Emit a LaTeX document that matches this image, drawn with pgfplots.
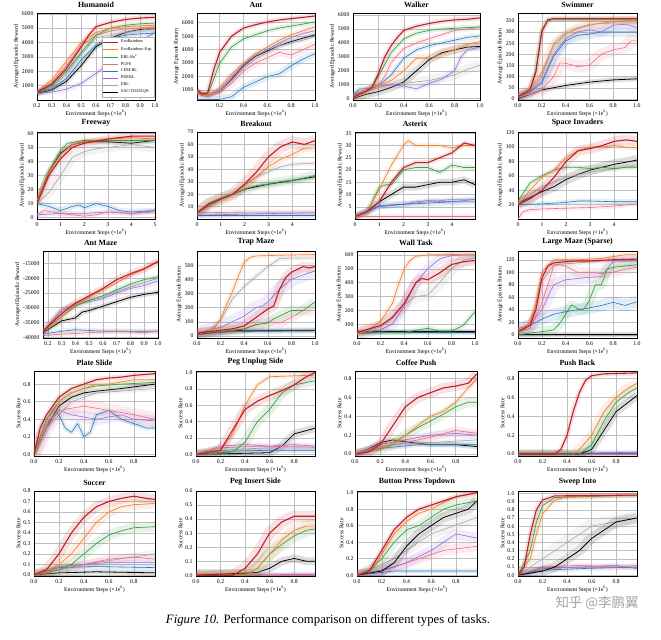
\documentclass[border=0pt]{standalone}
\usepackage{fontspec}
\setmainfont{Liberation Serif}
\newfontfamily\cjk{Noto Sans CJK SC}
\usepackage{pgfplots}
\pgfplotsset{compat=1.18}
\definecolor{cEvo}{RGB}{192,30,38}
\definecolor{cExp}{RGB}{242,132,52}
\definecolor{cRe2}{RGB}{58,158,68}
\definecolor{cPgps}{RGB}{236,108,128}
\definecolor{cCem}{RGB}{38,118,188}
\definecolor{cPderl}{RGB}{150,108,212}
\definecolor{cErl}{RGB}{165,165,165}
\pgfplotsset{
 evo/.style={color=cEvo, line width=1.1pt},
 exp/.style={color=cExp, line width=0.7pt},
 re2/.style={color=cRe2, line width=0.7pt},
 pgps/.style={color=cPgps, line width=0.6pt},
 cem/.style={color=cCem, line width=0.6pt},
 pderl/.style={color=cPderl, line width=0.6pt},
 erl/.style={color=cErl, line width=0.6pt},
 sac/.style={color=black, line width=0.8pt},
 myax/.style={scale only axis, axis line style={line width=0.7pt},
  grid=major, major grid style={gray!50, line width=0.4pt},
  tick style={draw=none},
  tick label style={font=\fontsize{5.8}{6}\selectfont},
  label style={font=\fontsize{5.8}{6}\selectfont},
  title style={font=\fontsize{7.9}{8}\selectfont\bfseries, yshift=-4pt},
  xlabel={Environment Steps (×1e\textsuperscript{6})},
  xlabel style={yshift=4pt}, ylabel style={yshift=-4pt},
  /pgf/number format/assume math mode=true,
  /pgf/number format/1000 sep={},
  scaled ticks=false, no markers,
  every axis plot/.append style={line join=round},
  xticklabel style={/pgf/number format/.cd,fixed,fixed zerofill,precision=1},
 },
 stepx/.style={xticklabel style={/pgf/number format/.cd,fixed,precision=0}},
 yone/.style={yticklabel style={/pgf/number format/.cd,fixed,fixed zerofill,precision=1}},
}
\newcommand{\ser}[3][5pt]{\addplot[#2,line width=#1,opacity=0.13,forget plot] coordinates {#3};\addplot[#2] coordinates {#3};}
\begin{document}
\begin{tikzpicture}
\path[use as bounding box] (0,0) rectangle (661bp,640bp);
%================ ROW 1
\begin{axis}[myax, at={(37bp,540bp)}, width=118bp, height=87bp, title={Humanoid},
 ylabel={Averaged Episodic Reward}, xmin=0.2, xmax=1.0, ymin=0, ymax=6050,
 xtick={0.2,0.3,0.4,0.5,0.6,0.7,0.8,0.9,1.0}, ytick={1000,2000,3000,4000,5000,6000},
 reverse legend, legend cell align=left,
 legend style={at={(0.995,0.035)}, anchor=south east, font=\fontsize{4.3}{4.5}\selectfont, draw=gray!60, fill=white, inner sep=0.6pt, row sep=-1.4pt},
 legend image code/.code={\draw[#1] (0bp,0bp) -- (15bp,0bp);}]
\ser{sac}{(0.2,450)(0.3,700)(0.4,1300)(0.5,2400)(0.6,3700)(0.7,4300)(0.8,4700)(0.9,4900)(1.0,4950)}
\ser[8pt]{erl}{(0.2,500)(0.3,900)(0.4,1800)(0.5,3200)(0.6,4300)(0.7,4550)(0.8,4700)(0.9,4850)(1.0,5000)}
\ser{pderl}{(0.2,450)(0.3,550)(0.4,750)(0.5,1150)(0.6,1850)(0.7,2600)(0.8,3400)(0.9,4100)(1.0,4700)}
\ser{cem}{(0.2,500)(0.3,800)(0.4,1500)(0.5,2800)(0.6,3800)(0.7,4300)(0.8,4500)(0.9,4600)(1.0,4650)}
\ser{pgps}{(0.2,550)(0.3,1200)(0.4,2400)(0.5,3800)(0.6,4500)(0.7,4800)(0.8,4950)(0.9,5000)(1.0,5050)}
\ser{re2}{(0.2,500)(0.3,1000)(0.4,2000)(0.5,3300)(0.6,4500)(0.7,5000)(0.8,5200)(0.9,5300)(1.0,5350)}
\ser{exp}{(0.2,600)(0.3,1400)(0.4,2700)(0.5,4000)(0.6,4700)(0.7,5000)(0.8,5100)(0.9,5150)(1.0,5200)}
\ser{evo}{(0.2,550)(0.3,1100)(0.4,2200)(0.5,3700)(0.55,4500)(0.6,5100)(0.7,5400)(0.8,5600)(0.9,5700)(1.0,5750)}
\legend{SAC/TD3/DQN,ERL,PDERL,CEM-RL,PGPS,ERL-Re\textsuperscript{2},EvoRainbow-Exp,EvoRainbow}
\end{axis}
\begin{axis}[myax, at={(197bp,540bp)}, width=118bp, height=87bp, title={Ant},
 ylabel={Average Episode Return}, xmin=0.01, xmax=1.0, ymin=260, ymax=6720,
 xtick={0.2,0.4,0.6,0.8,1.0}, ytick={1000,2000,3000,4000,5000,6000}]
\ser{sac}{(0.01,900)(0.1,600)(0.2,900)(0.3,1800)(0.4,2800)(0.5,3500)(0.6,3900)(0.7,4300)(0.8,4600)(0.9,4850)(1.0,5100)}
\ser{erl}{(0.01,900)(0.1,600)(0.2,900)(0.3,1700)(0.4,2600)(0.5,3300)(0.6,3800)(0.7,4300)(0.8,4500)(0.9,4700)(1.0,5000)}
\ser{pderl}{(0.01,800)(0.1,600)(0.2,1000)(0.3,2000)(0.4,2900)(0.5,3600)(0.6,4000)(0.7,4500)(0.8,4900)(0.9,5200)(1.0,5400)}
\ser[7pt]{cem}{(0.01,300)(0.2,300)(0.3,500)(0.4,1200)(0.5,1600)(0.6,2000)(0.7,2200)(0.8,2800)(0.9,3300)(1.0,3700)}
\ser[8pt]{pgps}{(0.01,700)(0.1,500)(0.2,800)(0.3,1500)(0.4,2400)(0.5,3000)(0.6,3400)(0.7,3800)(0.8,3600)(0.9,4000)(1.0,4400)}
\ser{re2}{(0.01,1000)(0.05,700)(0.1,700)(0.15,1800)(0.2,3000)(0.3,4200)(0.4,4800)(0.5,5100)(0.6,5400)(0.7,5600)(0.8,5750)(0.9,5900)(1.0,6050)}
\ser{exp}{(0.01,900)(0.05,600)(0.1,600)(0.2,1200)(0.3,2200)(0.4,3000)(0.5,3700)(0.6,4200)(0.7,4700)(0.8,5100)(0.9,5400)(1.0,5700)}
\ser{evo}{(0.01,1000)(0.05,700)(0.1,800)(0.15,2500)(0.2,3800)(0.3,5000)(0.4,5600)(0.5,5850)(0.6,6050)(0.7,6200)(0.8,6300)(0.9,6400)(1.0,6500)}
\end{axis}
\begin{axis}[myax, at={(353bp,540bp)}, width=127bp, height=87bp, title={Walker},
 ylabel={Averaged Episodic Reward}, xmin=0, xmax=1.0, ymin=-100, ymax=6150,
 xtick={0,0.2,0.4,0.6,0.8,1.0}, ytick={0,1000,2000,3000,4000,5000,6000}]
\ser[8pt]{sac}{(0,0)(0.1,300)(0.2,500)(0.3,800)(0.4,1200)(0.5,2000)(0.6,2800)(0.7,3300)(0.8,3500)(0.9,3700)(1.0,3750)}
\ser[10pt]{erl}{(0,200)(0.1,500)(0.2,800)(0.3,1000)(0.4,1100)(0.5,1200)(0.6,1300)(0.7,1500)(0.8,1700)(0.9,2100)(1.0,2400)}
\ser{pderl}{(0,300)(0.1,600)(0.2,900)(0.3,1000)(0.4,900)(0.5,700)(0.6,1100)(0.7,1400)(0.8,2000)(0.85,3000)(0.9,3500)(1.0,3700)}
\ser{cem}{(0,200)(0.05,700)(0.1,700)(0.2,900)(0.3,1700)(0.4,2900)(0.5,3500)(0.6,3800)(0.7,4000)(0.8,4200)(0.9,4400)(1.0,4500)}
\ser{pgps}{(0,100)(0.1,600)(0.2,1000)(0.25,1600)(0.3,2600)(0.4,3600)(0.5,4000)(0.6,4300)(0.7,4600)(0.8,4900)(0.9,5000)(1.0,5100)}
\ser{re2}{(0,100)(0.1,600)(0.15,800)(0.2,1600)(0.3,3300)(0.4,4300)(0.5,4700)(0.6,4900)(0.7,5000)(0.8,5050)(0.9,5100)(1.0,5150)}
\ser[8pt]{exp}{(0,100)(0.1,600)(0.2,900)(0.3,1300)(0.4,2000)(0.5,2900)(0.6,2900)(0.7,3200)(0.8,3500)(0.9,3900)(1.0,4100)}
\ser{evo}{(0,100)(0.1,500)(0.15,800)(0.2,1800)(0.25,3000)(0.3,3800)(0.35,4400)(0.4,4900)(0.5,5200)(0.6,5400)(0.7,5550)(0.8,5650)(0.9,5700)(1.0,5800)}
\end{axis}
\begin{axis}[myax, at={(518bp,540bp)}, width=119bp, height=87bp, title={Swimmer},
 ylabel={Average Episode Return}, xmin=0, xmax=1.0, ymin=-5, ymax=385,
 xtick={0,0.2,0.4,0.6,0.8,1.0}, ytick={0,50,100,150,200,250,300,350}]
\ser{sac}{(0,0)(0.1,20)(0.2,40)(0.4,60)(0.6,75)(0.8,85)(1.0,90)}
\ser{erl}{(0,10)(0.1,30)(0.2,100)(0.3,250)(0.4,300)(0.6,335)(0.8,340)(1.0,340)}
\ser[10pt]{pderl}{(0,10)(0.1,30)(0.2,80)(0.3,200)(0.4,270)(0.5,300)(0.6,310)(0.7,300)(0.8,330)(0.9,335)(1.0,320)}
\ser[10pt]{cem}{(0,10)(0.1,30)(0.2,70)(0.3,190)(0.4,260)(0.5,285)(0.6,290)(0.7,300)(0.8,300)(0.9,300)(1.0,300)}
\ser[12pt]{pgps}{(0,10)(0.1,20)(0.2,40)(0.3,100)(0.35,160)(0.4,160)(0.5,145)(0.6,150)(0.7,200)(0.8,220)(0.9,230)(0.95,260)(1.0,260)}
\ser{re2}{(0,10)(0.1,40)(0.15,130)(0.2,310)(0.25,350)(0.3,355)(1.0,355)}
\ser[10pt]{exp}{(0,20)(0.1,40)(0.2,120)(0.3,240)(0.4,290)(0.5,315)(0.6,330)(0.7,340)(0.8,345)(0.9,350)(1.0,350)}
\ser{evo}{(0,10)(0.1,40)(0.15,120)(0.2,300)(0.25,355)(0.3,360)(1.0,360)}
\end{axis}
%================ ROW 2
\begin{axis}[myax, stepx, at={(37bp,421bp)}, width=118bp, height=87bp, title={Freeway},
 ylabel={Averaged Episodic Reward}, xmin=0, xmax=5, ymin=-1, ymax=61,
 xtick={0,1,2,3,4,5}, ytick={0,10,20,30,40,50,60}]
\ser{sac}{(0,12)(0.5,32)(1,46)(1.5,52)(2,54)(3,54)(4,53)(5,55)}
\ser[10pt]{erl}{(0,10)(0.5,18)(1,30)(1.5,43)(2,47)(2.5,49)(3,50)(4,52)(5,50)}
\ser{pderl}{(0,2)(1,3)(2,3)(3,4)(4,3)(5,5)}
\ser[6pt]{cem}{(0,10)(0.5,8)(1,5)(1.5,8)(1.8,9)(2,7)(2.5,10)(3,8)(3.5,5)(4,4)(5,5)}
\ser{pgps}{(0,2)(0.3,5)(1,3)(1.5,2)(2,1)(2.5,2)(3,4)(4,3)(5,4)}
\ser{re2}{(0,12)(0.5,33)(1,48)(1.3,53)(2,55)(3,55)(4,55)(5,55)}
\ser{exp}{(0,12)(0.5,32)(1,45)(1.5,52)(2,54)(3,56)(4,57)(5,56)}
\ser[7pt]{evo}{(0,10)(0.5,30)(1,42)(1.5,50)(2,53)(3,56)(4,58)(5,58)}
\end{axis}
\begin{axis}[myax, stepx, at={(197bp,421bp)}, width=118bp, height=87bp, title={Breakout},
 ylabel={Averaged Episodic Reward}, xmin=0, xmax=4.95, ymin=0, ymax=70,
 xtick={0,1,2,3,4}, ytick={10,20,30,40,50,60,70}]
\ser{sac}{(0,5)(1,16)(2,24)(3,28)(4,31)(4.95,34)}
\ser{erl}{(0,5)(1,16)(1.5,20)(2,28)(2.5,34)(3,38)(3.5,42)(4,44)(4.95,45)}
\ser{pderl}{(0,3)(2,4)(4.95,5)}
\ser{cem}{(0,3)(2,3)(4.95,3)}
\ser{pgps}{(0,5)(2,5.5)(4.95,5.5)}
\ser[10pt]{re2}{(0,5)(0.5,13)(1,17)(1.5,20)(2,24)(2.5,27)(3,28)(3.5,30)(4,31)(4.5,33)(4.95,35)}
\ser[8pt]{exp}{(0,5)(0.5,12)(1,16)(1.5,20)(2,27)(2.5,34)(3,42)(3.5,48)(4,52)(4.5,57)(4.95,57)}
\ser[12pt]{evo}{(0,5)(0.5,12)(1,16)(1.5,20)(2,28)(2.5,38)(3,50)(3.5,58)(4,62)(4.5,60)(4.95,63)}
\end{axis}
\begin{axis}[myax, stepx, at={(355bp,421bp)}, width=120bp, height=87bp, title={Asterix},
 ylabel={Averaged Episodic Reward}, xmin=0, xmax=4.95, ymin=0, ymax=35.5,
 xtick={0,1,2,3,4}, ytick={5,10,15,20,25,30,35}]
\ser[7pt]{sac}{(0,1)(0.5,3)(1,7)(1.5,10)(2,13)(2.5,13)(3,14)(3.5,15)(4,15)(4.5,16)(4.95,14)}
\ser{erl}{(0,1)(1,5)(2,6)(3,7)(4,8)(4.95,8)}
\ser{pderl}{(0,1)(1,5)(2,6)(2.5,7)(3,7.5)(4,7)(4.95,8)}
\ser[7pt]{cem}{(0,1)(0.5,3)(1,5.5)(2,6)(3,6.5)(4,7)(4.95,7)}
\ser{pgps}{(0,1)(2,1)(4.95,1)}
\ser{re2}{(0,1)(0.5,3)(1,13)(1.3,14)(1.5,14)(2,20)(2.5,21)(3,21)(3.5,19)(4,22)(4.5,21)(4.95,21)}
\ser{exp}{(0,1)(0.5,3)(1,12)(1.5,22)(2,30)(2.2,32)(2.5,30)(3,30)(3.5,30)(4,29)(4.5,30)(4.95,30)}
\ser{evo}{(0,1)(0.5,3)(1,7)(1.5,15)(2,21)(2.5,23)(3,23)(3.5,25)(4,27)(4.5,31)(4.95,30)}
\end{axis}
\begin{axis}[myax, stepx, at={(518bp,421bp)}, width=119bp, height=87bp, title={Space Invaders},
 ylabel={Averaged Episodic Reward}, xmin=0, xmax=4.95, ymin=0, ymax=121,
 xtick={0,1,2,3,4}, ytick={20,40,60,80,100,120}]
\ser[10pt]{sac}{(0,22)(0.5,30)(1,38)(1.5,45)(2,55)(2.5,62)(3,68)(3.5,72)(4,76)(4.5,79)(4.95,82)}
\ser{erl}{(0,22)(1,45)(2,58)(3,65)(4,70)(4.95,74)}
\ser{cem}{(0,20)(1,21)(2,23)(2.5,25)(3,25)(4,24)(4.95,24)}
\ser{pgps}{(0,0)(0.2,10)(0.5,13)(1,14)(2,15)(3,16)(4,18)(4.95,21)}
\ser{re2}{(0,25)(0.5,50)(1,60)(1.5,68)(2,72)(2.5,72)(3,70)(3.5,72)(4,70)(4.5,72)(4.95,72)}
\ser{exp}{(0,20)(0.5,40)(1,58)(1.5,68)(2,85)(2.5,95)(3,100)(3.5,100)(4,102)(4.5,100)(4.95,99)}
\ser[10pt]{evo}{(0,20)(0.5,28)(1,40)(1.5,58)(2,80)(2.5,95)(3,98)(3.5,102)(4,108)(4.5,110)(4.95,108)}
\end{axis}
%================ ROW 3
\begin{axis}[myax, at={(43bp,302bp)}, width=115bp, height=87bp, title={Ant Maze},
 ylabel={Averaged Episodic Reward}, xmin=0.165, xmax=1.0, ymin=-40300, ymax=-10800,
 xtick={0.2,0.3,0.4,0.5,0.6,0.7,0.8,0.9,1.0}, ytick={-40000,-35000,-30000,-25000,-20000,-15000}]
\ser{sac}{(0.165,-38500)(0.3,-34500)(0.4,-33500)(0.45,-31500)(0.5,-31000)(0.6,-29500)(0.7,-28000)(0.8,-26500)(0.9,-25500)(1.0,-24800)}
\ser{erl}{(0.165,-38000)(0.3,-30500)(0.4,-28500)(0.5,-27500)(0.6,-26500)(0.7,-24500)(0.8,-23000)(0.9,-21500)(1.0,-20000)}
\ser[7pt]{pderl}{(0.165,-38000)(0.3,-31000)(0.4,-29000)(0.5,-28000)(0.6,-27000)(0.7,-25000)(0.8,-23500)(0.9,-22500)(1.0,-21000)}
\ser{cem}{(0.165,-39000)(0.3,-38000)(0.4,-37500)(0.6,-38000)(0.8,-38000)(1.0,-38000)}
\ser{pgps}{(0.165,-39500)(0.3,-39000)(0.5,-38500)(0.7,-38000)(0.9,-38500)(1.0,-38000)}
\ser{re2}{(0.165,-38000)(0.3,-33000)(0.4,-29500)(0.5,-27500)(0.6,-26000)(0.7,-24000)(0.8,-22000)(0.9,-20500)(1.0,-19500)}
\ser{exp}{(0.165,-38000)(0.3,-33000)(0.4,-29000)(0.5,-26500)(0.6,-24000)(0.7,-21500)(0.8,-19000)(0.9,-17000)(1.0,-14500)}
\ser[7pt]{evo}{(0.165,-38000)(0.2,-36500)(0.3,-32000)(0.4,-28500)(0.5,-26000)(0.6,-23500)(0.7,-20500)(0.8,-18500)(0.9,-16800)(1.0,-14300)}
\end{axis}
\begin{axis}[myax, at={(197bp,302bp)}, width=118bp, height=87bp, title={Trap Maze},
 ylabel={Average Episode Return}, xmin=0, xmax=1.0, ymin=-15, ymax=600,
 xtick={0,0.2,0.4,0.6,0.8,1.0}, ytick={0,100,200,300,400,500}]
\ser{cem}{(0,10)(0.3,30)(1.0,35)}
\ser{sac}{(0,10)(0.2,30)(0.4,40)(1.0,40)}
\ser{erl}{(0,20)(0.1,30)(0.2,110)(0.3,260)(0.4,350)(0.5,420)(0.6,490)(0.7,545)(0.8,550)(1.0,550)}
\ser[14pt]{pderl}{(0,20)(0.2,60)(0.3,100)(0.4,140)(0.5,200)(0.55,210)(0.6,240)(0.7,330)(0.8,400)(0.9,430)(1.0,460)}
\ser[10pt]{pgps}{(0,20)(0.2,30)(0.4,50)(0.6,100)(0.7,90)(0.8,130)(0.9,180)(1.0,180)}
\ser[10pt]{re2}{(0,20)(0.2,30)(0.4,50)(0.5,80)(0.6,90)(0.65,120)(0.7,140)(0.8,180)(0.9,180)(1.0,240)}
\ser{exp}{(0,20)(0.1,30)(0.15,60)(0.2,120)(0.25,220)(0.3,310)(0.35,420)(0.4,520)(0.45,555)(0.5,565)(0.7,570)(1.0,575)}
\ser[10pt]{evo}{(0,20)(0.2,40)(0.3,50)(0.4,70)(0.5,130)(0.6,190)(0.65,210)(0.7,330)(0.75,410)(0.8,450)(0.9,490)(0.95,480)(1.0,490)}
\end{axis}
\begin{axis}[myax, at={(357bp,302bp)}, width=118bp, height=87bp, title={Wall Task},
 ylabel={Average Episode Return}, xmin=0, xmax=1.0, ymin=0, ymax=628,
 xtick={0,0.2,0.4,0.6,0.8,1.0}, ytick={100,200,300,400,500,600}]
\ser{cem}{(0,40)(0.5,40)(1.0,40)}
\ser{sac}{(0,45)(0.5,45)(1.0,45)}
\ser[12pt]{erl}{(0,30)(0.2,80)(0.3,140)(0.4,240)(0.5,300)(0.6,310)(0.7,400)(0.8,500)(0.9,560)(1.0,580)}
\ser[10pt]{pderl}{(0,30)(0.2,60)(0.3,100)(0.4,230)(0.5,400)(0.6,500)(0.7,570)(0.8,595)(0.9,600)(1.0,600)}
\ser{re2}{(0,30)(0.2,40)(0.4,40)(0.6,70)(0.7,50)(0.8,50)(0.9,90)(1.0,190)}
\ser{exp}{(0,30)(0.1,60)(0.2,120)(0.3,250)(0.35,380)(0.4,500)(0.45,560)(0.5,590)(0.6,600)(1.0,605)}
\ser[10pt]{evo}{(0,40)(0.2,90)(0.3,150)(0.4,250)(0.5,400)(0.55,430)(0.6,420)(0.7,470)(0.8,530)(0.9,550)(1.0,560)}
\end{axis}
\begin{axis}[myax, at={(518bp,302bp)}, width=119bp, height=87bp, title={Large Maze (Sparse)},
 ylabel={Average Episode Return}, xmin=0, xmax=1.0, ymin=-5, ymax=134,
 xtick={0,0.2,0.4,0.6,0.8,1.0}, ytick={0,20,40,60,80,100,120}]
\ser{sac}{(0,0)(0.5,0)(1.0,0)}
\ser{erl}{(0,5)(0.1,15)(0.2,85)(0.3,112)(0.5,115)(0.7,118)(1.0,120)}
\ser[12pt]{cem}{(0,10)(0.1,15)(0.2,25)(0.3,33)(0.4,37)(0.5,40)(0.6,43)(0.7,47)(0.8,52)(0.9,47)(1.0,53)}
\ser[12pt]{pderl}{(0,5)(0.1,15)(0.2,40)(0.3,80)(0.4,88)(0.5,90)(0.6,92)(0.7,93)(0.8,118)(0.9,118)(1.0,118)}
\ser[10pt]{pgps}{(0,5)(0.1,10)(0.2,50)(0.3,110)(0.35,112)(0.4,110)(0.5,100)(0.6,100)(0.7,98)(0.8,100)(0.9,105)(1.0,108)}
\ser[10pt]{re2}{(0,0)(0.1,3)(0.2,5)(0.3,8)(0.35,18)(0.45,48)(0.5,42)(0.55,40)(0.6,55)(0.65,80)(0.7,80)(0.75,105)(0.8,108)(0.9,110)(1.0,112)}
\ser{exp}{(0,5)(0.1,20)(0.15,50)(0.2,100)(0.3,120)(0.5,120)(0.7,122)(0.8,125)(0.9,128)(1.0,128)}
\ser{evo}{(0,5)(0.1,15)(0.15,40)(0.2,90)(0.25,110)(0.3,115)(0.4,117)(0.5,118)(0.6,118)(0.7,119)(0.8,120)(1.0,121)}
\end{axis}
%================ ROW 4
\begin{axis}[myax, yone, at={(34bp,184bp)}, width=121bp, height=85bp, title={Plate Slide},
 ylabel={Success Rate}, xmin=0, xmax=0.97, ymin=-0.02, ymax=0.95,
 xtick={0,0.2,0.4,0.6,0.8}, ytick={0,0.2,0.4,0.6,0.8}]
\ser{sac}{(0,0)(0.1,0.3)(0.2,0.55)(0.3,0.65)(0.4,0.7)(0.5,0.72)(0.7,0.75)(0.97,0.8)}
\ser{erl}{(0,0)(0.1,0.3)(0.3,0.6)(0.5,0.7)(0.97,0.75)}
\ser[12pt]{pderl}{(0,0)(0.1,0.35)(0.2,0.5)(0.3,0.45)(0.5,0.4)(0.7,0.45)(0.8,0.4)(0.97,0.38)}
\ser{cem}{(0,0)(0.1,0.3)(0.15,0.5)(0.2,0.45)(0.25,0.3)(0.3,0.25)(0.35,0.35)(0.4,0.2)(0.45,0.25)(0.5,0.45)(0.6,0.5)(0.7,0.4)(0.8,0.35)(0.9,0.3)(0.97,0.3)}
\ser[14pt]{pgps}{(0,0)(0.1,0.3)(0.2,0.5)(0.4,0.55)(0.6,0.5)(0.8,0.45)(0.97,0.4)}
\ser{re2}{(0,0)(0.1,0.4)(0.2,0.6)(0.3,0.7)(0.4,0.75)(0.5,0.78)(0.7,0.8)(0.97,0.82)}
\ser{exp}{(0,0)(0.1,0.35)(0.2,0.6)(0.3,0.7)(0.4,0.75)(0.5,0.8)(0.6,0.8)(0.8,0.85)(0.97,0.85)}
\ser{evo}{(0,0)(0.05,0.3)(0.1,0.45)(0.2,0.65)(0.3,0.75)(0.4,0.8)(0.5,0.85)(0.6,0.87)(0.7,0.88)(0.8,0.9)(0.97,0.92)}
\end{axis}
\begin{axis}[myax, yone, at={(196bp,184bp)}, width=119bp, height=85bp, title={Peg Unplug Side},
 ylabel={Success Rate}, xmin=0, xmax=0.97, ymin=-0.02, ymax=1.02,
 xtick={0,0.2,0.4,0.6,0.8}, ytick={0,0.2,0.4,0.6,0.8,1.0}]
\ser[8pt]{sac}{(0,0)(0.6,0.02)(0.7,0.1)(0.8,0.25)(0.97,0.32)}
\ser{erl}{(0,0)(0.3,0.06)(0.6,0.08)(0.97,0.08)}
\ser{pderl}{(0,0)(0.2,0.1)(0.4,0.12)(0.6,0.1)(0.8,0.12)(0.97,0.1)}
\ser{cem}{(0,0)(0.3,0.04)(0.6,0.05)(0.97,0.05)}
\ser{pgps}{(0,0)(0.2,0.08)(0.5,0.1)(0.97,0.09)}
\ser[10pt]{re2}{(0,0)(0.3,0.03)(0.4,0.15)(0.5,0.4)(0.6,0.55)(0.7,0.75)(0.8,0.85)(0.97,0.9)}
\ser{exp}{(0,0)(0.2,0.05)(0.3,0.25)(0.4,0.6)(0.5,0.85)(0.6,0.95)(0.97,0.97)}
\ser[10pt]{evo}{(0,0)(0.2,0.05)(0.3,0.3)(0.4,0.55)(0.5,0.65)(0.6,0.72)(0.7,0.78)(0.8,0.85)(0.9,0.95)(0.97,1.0)}
\end{axis}
\begin{axis}[myax, yone, at={(355bp,184bp)}, width=122bp, height=85bp, title={Coffee Push},
 ylabel={Success Rate}, xmin=0, xmax=0.97, ymin=-0.02, ymax=0.88,
 xtick={0,0.2,0.4,0.6,0.8}, ytick={0,0.2,0.4,0.6,0.8}]
\ser{sac}{(0,0)(0.1,0.05)(0.2,0.12)(0.3,0.15)(0.4,0.13)(0.6,0.1)(0.8,0.1)(0.97,0.08)}
\ser{erl}{(0,0)(0.3,0.1)(0.97,0.15)}
\ser[8pt]{pderl}{(0,0)(0.2,0.1)(0.4,0.15)(0.6,0.2)(0.8,0.22)(0.97,0.2)}
\ser{cem}{(0,0)(0.2,0.06)(0.5,0.1)(0.97,0.1)}
\ser[8pt]{pgps}{(0,0)(0.2,0.08)(0.4,0.12)(0.6,0.18)(0.8,0.25)(0.97,0.22)}
\ser[10pt]{re2}{(0,0)(0.2,0.05)(0.3,0.1)(0.4,0.2)(0.5,0.28)(0.6,0.35)(0.7,0.42)(0.8,0.5)(0.9,0.55)(0.97,0.55)}
\ser{exp}{(0,0)(0.2,0.05)(0.3,0.12)(0.4,0.2)(0.5,0.3)(0.6,0.4)(0.7,0.45)(0.8,0.55)(0.9,0.7)(0.97,0.8)}
\ser[10pt]{evo}{(0,0)(0.1,0.02)(0.2,0.1)(0.3,0.3)(0.4,0.5)(0.5,0.6)(0.6,0.65)(0.7,0.7)(0.8,0.72)(0.9,0.75)(0.97,0.85)}
\end{axis}
\begin{axis}[myax, yone, at={(518bp,184bp)}, width=119bp, height=85bp, title={Push Back},
 ylabel={Success Rate}, xmin=0, xmax=0.97, ymin=-0.02, ymax=0.88,
 xtick={0,0.2,0.4,0.6,0.8}, ytick={0,0.2,0.4,0.6,0.8}]
\ser{erl}{(0,0)(0.97,0.01)}
\ser{pderl}{(0,0)(0.97,0.02)}
\ser{cem}{(0,0.01)(0.97,0.01)}
\ser{pgps}{(0,0)(0.97,0.0)}
\ser[8pt]{sac}{(0,0)(0.5,0)(0.6,0.05)(0.7,0.25)(0.8,0.45)(0.9,0.55)(0.97,0.62)}
\ser[10pt]{re2}{(0,0)(0.5,0)(0.6,0.1)(0.7,0.35)(0.8,0.55)(0.9,0.65)(0.97,0.7)}
\ser[10pt]{exp}{(0,0)(0.45,0)(0.5,0.05)(0.6,0.2)(0.7,0.45)(0.8,0.6)(0.9,0.7)(0.97,0.75)}
\ser{evo}{(0,0)(0.3,0)(0.35,0.05)(0.4,0.2)(0.45,0.45)(0.5,0.65)(0.55,0.78)(0.6,0.83)(0.7,0.85)(0.97,0.86)}
\end{axis}
%================ ROW 5
\begin{axis}[myax, yone, at={(34bp,64bp)}, width=121bp, height=85bp, title={Soccer},
 ylabel={Success Rate}, xmin=0, xmax=0.97, ymin=-0.01, ymax=0.8,
 xtick={0,0.2,0.4,0.6,0.8}, ytick={0,0.1,0.2,0.3,0.4,0.5,0.6,0.7,0.8}]
\ser{sac}{(0,0)(0.2,0.02)(0.5,0.03)(0.97,0.02)}
\ser[8pt]{erl}{(0,0)(0.5,0.12)(0.97,0.2)}
\ser{pderl}{(0,0)(0.2,0.08)(0.4,0.1)(0.6,0.12)(0.97,0.12)}
\ser{cem}{(0,0)(0.2,0.07)(0.5,0.08)(0.97,0.07)}
\ser[8pt]{pgps}{(0,0)(0.2,0.05)(0.4,0.1)(0.6,0.15)(0.8,0.17)(0.97,0.15)}
\ser[10pt]{re2}{(0,0)(0.2,0.05)(0.3,0.1)(0.4,0.2)(0.5,0.3)(0.6,0.38)(0.7,0.42)(0.8,0.45)(0.97,0.46)}
\ser[10pt]{exp}{(0,0)(0.1,0.03)(0.2,0.1)(0.3,0.2)(0.4,0.35)(0.5,0.5)(0.6,0.6)(0.7,0.65)(0.8,0.67)(0.97,0.68)}
\ser[10pt]{evo}{(0,0)(0.1,0.05)(0.2,0.2)(0.3,0.4)(0.4,0.55)(0.5,0.65)(0.6,0.7)(0.7,0.73)(0.8,0.75)(0.9,0.73)(0.97,0.72)}
\end{axis}
\begin{axis}[myax, yone, at={(196bp,64bp)}, width=119bp, height=85bp, title={Peg Insert Side},
 ylabel={Success Rate}, xmin=0, xmax=0.97, ymin=-0.005, ymax=0.6,
 xtick={0,0.2,0.4,0.6,0.8}, ytick={0,0.1,0.2,0.3,0.4,0.5,0.6}]
\ser{erl}{(0,0)(0.97,0.005)}
\ser{pderl}{(0,0)(0.97,0.005)}
\ser{cem}{(0,0)(0.97,0.0)}
\ser{pgps}{(0,0)(0.97,0.0)}
\ser[8pt]{sac}{(0,0)(0.5,0.02)(0.6,0.05)(0.7,0.1)(0.8,0.12)(0.9,0.1)(0.97,0.1)}
\ser[12pt]{re2}{(0,0)(0.4,0.0)(0.5,0.05)(0.6,0.15)(0.7,0.22)(0.8,0.28)(0.9,0.32)(0.97,0.33)}
\ser[12pt]{exp}{(0,0)(0.4,0)(0.5,0.05)(0.6,0.15)(0.7,0.25)(0.8,0.32)(0.9,0.35)(0.97,0.35)}
\ser[12pt]{evo}{(0,0)(0.3,0)(0.4,0.05)(0.5,0.15)(0.6,0.3)(0.7,0.38)(0.8,0.42)(0.9,0.42)(0.97,0.42)}
\end{axis}
\begin{axis}[myax, yone, at={(357bp,64bp)}, width=120bp, height=85bp, title={Button Press Topdown},
 ylabel={Success Rate}, xmin=0, xmax=0.97, ymin=-0.01, ymax=1.02,
 xtick={0,0.2,0.4,0.6,0.8}, ytick={0,0.2,0.4,0.6,0.8,1.0}]
\ser{cem}{(0,0)(0.3,0.05)(0.97,0.05)}
\ser[10pt]{erl}{(0,0)(0.3,0.2)(0.6,0.5)(0.97,0.7)}
\ser[10pt]{pgps}{(0,0)(0.3,0.1)(0.5,0.2)(0.7,0.3)(0.97,0.35)}
\ser[10pt]{pderl}{(0,0)(0.2,0.05)(0.4,0.15)(0.6,0.3)(0.7,0.4)(0.8,0.5)(0.97,0.45)}
\ser[10pt]{sac}{(0,0)(0.2,0.05)(0.3,0.15)(0.4,0.35)(0.5,0.5)(0.6,0.6)(0.7,0.7)(0.8,0.75)(0.9,0.8)(0.97,0.9)}
\ser[10pt]{re2}{(0,0)(0.1,0.05)(0.2,0.2)(0.3,0.4)(0.4,0.55)(0.5,0.6)(0.6,0.7)(0.7,0.8)(0.8,0.85)(0.97,0.9)}
\ser{exp}{(0,0)(0.1,0.05)(0.2,0.25)(0.3,0.5)(0.4,0.65)(0.5,0.75)(0.6,0.8)(0.7,0.88)(0.8,0.95)(0.97,1.0)}
\ser{evo}{(0,0)(0.1,0.05)(0.2,0.3)(0.3,0.55)(0.4,0.7)(0.5,0.8)(0.6,0.85)(0.7,0.9)(0.8,0.95)(0.97,1.0)}
\end{axis}
\begin{axis}[myax, yone, at={(518bp,64bp)}, width=119bp, height=85bp, title={Sweep Into},
 ylabel={Success Rate}, xmin=0, xmax=0.97, ymin=-0.01, ymax=1.03,
 xtick={0,0.2,0.4,0.6,0.8}, ytick={0,0.1,0.2,0.3,0.4,0.5,0.6,0.7,0.8,0.9,1.0}]
\ser[14pt]{erl}{(0,0)(0.3,0.3)(0.6,0.6)(0.97,0.7)}
\ser{pderl}{(0,0)(0.2,0.08)(0.5,0.1)(0.8,0.12)(0.97,0.08)}
\ser{cem}{(0,0)(0.2,0.06)(0.5,0.08)(0.97,0.1)}
\ser{pgps}{(0,0)(0.2,0.1)(0.5,0.12)(0.8,0.1)(0.97,0.12)}
\ser[10pt]{sac}{(0,0)(0.2,0.05)(0.3,0.1)(0.4,0.2)(0.5,0.3)(0.6,0.45)(0.7,0.55)(0.8,0.65)(0.9,0.68)(0.97,0.7)}
\ser{re2}{(0,0)(0.1,0.3)(0.15,0.65)(0.2,0.85)(0.3,0.95)(0.97,0.98)}
\ser{exp}{(0,0)(0.1,0.2)(0.15,0.5)(0.2,0.75)(0.3,0.92)(0.4,0.96)(0.97,0.98)}
\ser{evo}{(0,0)(0.05,0.1)(0.1,0.5)(0.15,0.8)(0.2,0.92)(0.3,0.97)(0.97,0.98)}
\end{axis}
\node at (328bp,20bp) {\fontsize{12.8}{14}\selectfont\textit{Figure 10.} Performance comparison on different types of tasks.};
\node[text=gray!70] at (597bp,37bp) {\cjk\fontsize{13.5}{14}\selectfont 知乎 @李鹏翼};
\end{tikzpicture}
\end{document}
